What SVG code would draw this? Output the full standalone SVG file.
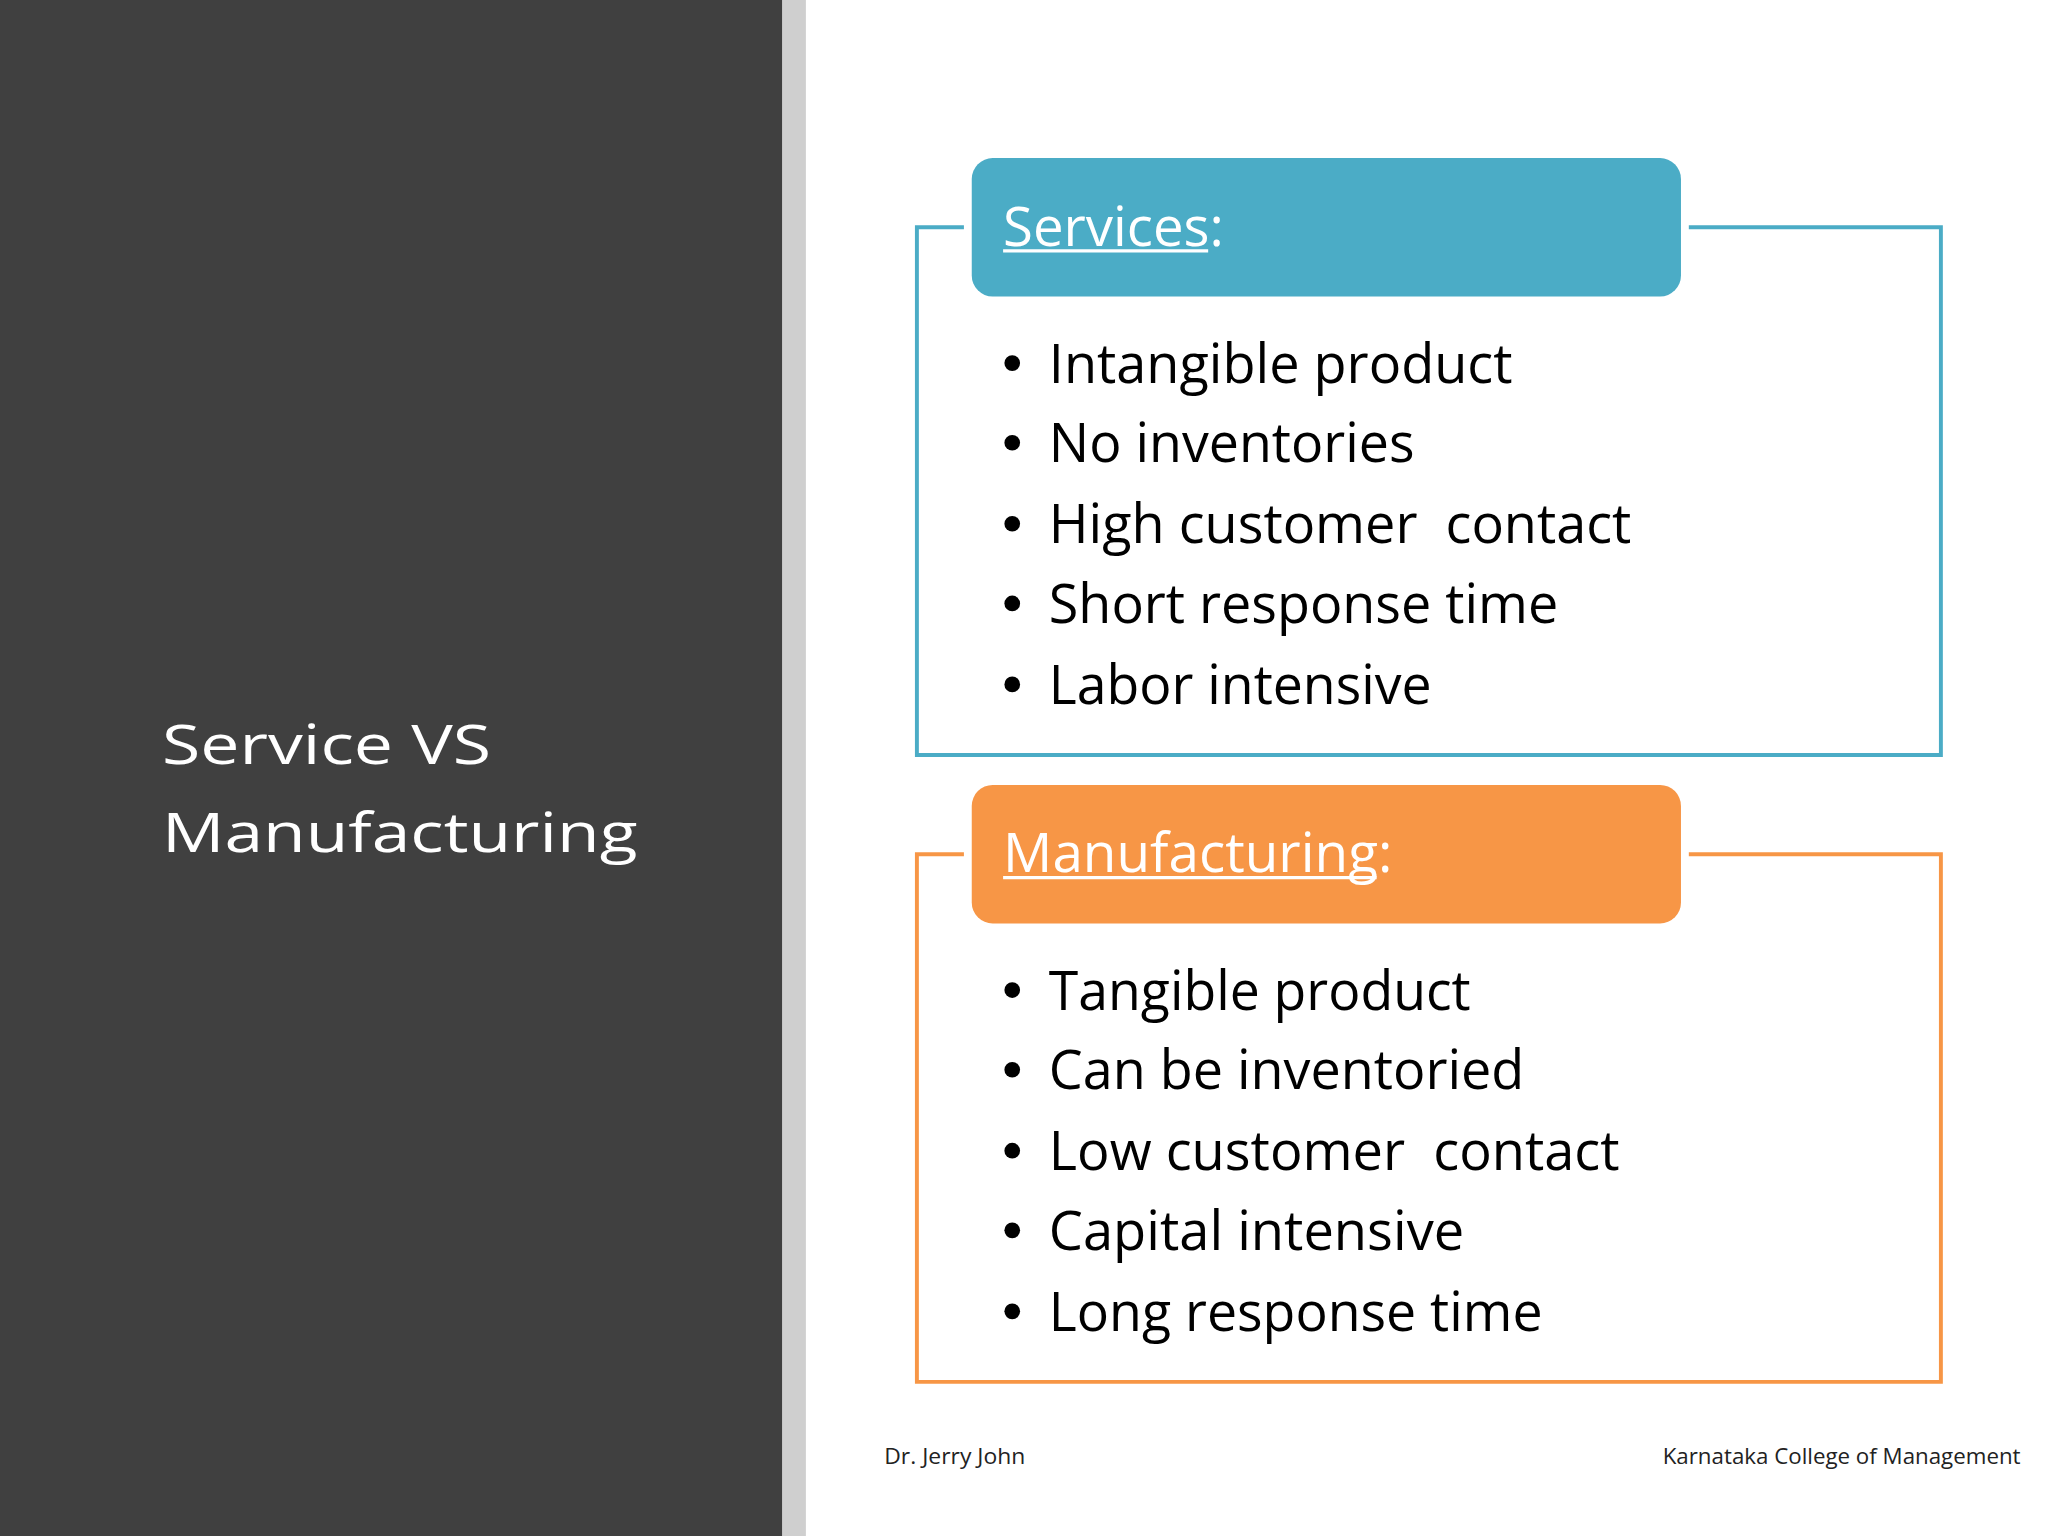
<svg xmlns="http://www.w3.org/2000/svg" width="2048" height="1536" viewBox="0 0 2048 1536">
<style>
.b{font-family:"Open Sans","Noto Sans",sans-serif;font-size:42px;fill:#000}
.h{font-family:"Open Sans","Noto Sans",sans-serif;font-size:42px;fill:#fff}
.f{font-family:"Open Sans","Noto Sans",sans-serif;font-size:16px;fill:#222}
</style>
<rect width="2048" height="1536" fill="#fff"/>
<g transform="scale(1.30612)">
<g id="side">
<rect x="0" y="0" width="599" height="1176" fill="#404040"/>
<rect x="599" y="0" width="18" height="1176" fill="#cfcfcf"/>
<text class="h" x="124" y="585" font-size="52" textLength="252" lengthAdjust="spacingAndGlyphs">Service VS</text>
<text class="h" x="124" y="652" font-size="52" textLength="364" lengthAdjust="spacingAndGlyphs">Manufacturing</text>
</g>
<g id="services">
<path d="M738 174 H702 V578 H1486 V174 H1293" fill="none" stroke="#4BACC6" stroke-width="3"/>
<rect x="744" y="121" width="543" height="106" rx="16" fill="#4BACC6"/>
<text class="h" x="768" y="188" textLength="169" lengthAdjust="spacingAndGlyphs">Services:</text>
<line x1="768" y1="192" x2="925" y2="192" stroke="#fff" stroke-width="2.5"/>
<g class="b">
<circle cx="775" cy="278" r="6"/><text x="803" y="293" textLength="355" lengthAdjust="spacingAndGlyphs">Intangible product</text>
<circle cx="775" cy="339" r="6"/><text x="803" y="354" textLength="280" lengthAdjust="spacingAndGlyphs">No inventories</text>
<circle cx="775" cy="401" r="6"/><text x="803" y="416" textLength="446" lengthAdjust="spacingAndGlyphs" xml:space="preserve">High customer  contact</text>
<circle cx="775" cy="462" r="6"/><text x="803" y="477" textLength="390" lengthAdjust="spacingAndGlyphs">Short response time</text>
<circle cx="775" cy="524" r="6"/><text x="803" y="539" textLength="293" lengthAdjust="spacingAndGlyphs">Labor intensive</text>
</g>
</g>
<g id="manufacturing">
<path d="M738 654 H702 V1058 H1486 V654 H1293" fill="none" stroke="#F79646" stroke-width="3"/>
<rect x="744" y="601" width="543" height="106" rx="16" fill="#F79646"/>
<text class="h" x="768" y="668" textLength="298" lengthAdjust="spacingAndGlyphs">Manufacturing:</text>
<line x1="768" y1="672" x2="1054" y2="672" stroke="#fff" stroke-width="2.5"/>
<g class="b">
<circle cx="775" cy="758" r="6"/><text x="803" y="773" textLength="323" lengthAdjust="spacingAndGlyphs">Tangible product</text>
<circle cx="775" cy="819" r="6"/><text x="803" y="834" textLength="364" lengthAdjust="spacingAndGlyphs">Can be inventoried</text>
<circle cx="775" cy="881" r="6"/><text x="803" y="896" textLength="437" lengthAdjust="spacingAndGlyphs" xml:space="preserve">Low customer  contact</text>
<circle cx="775" cy="942" r="6"/><text x="803" y="957" textLength="318" lengthAdjust="spacingAndGlyphs">Capital intensive</text>
<circle cx="775" cy="1004" r="6"/><text x="803" y="1019" textLength="378" lengthAdjust="spacingAndGlyphs">Long response time</text>
</g>
</g>
<g id="footer">
<text class="f" x="677" y="1121" textLength="108" lengthAdjust="spacingAndGlyphs">Dr. Jerry John</text>
<text class="f" x="1273" y="1121" textLength="274" lengthAdjust="spacingAndGlyphs">Karnataka College of Management</text>
</g>
</g>
</svg>
